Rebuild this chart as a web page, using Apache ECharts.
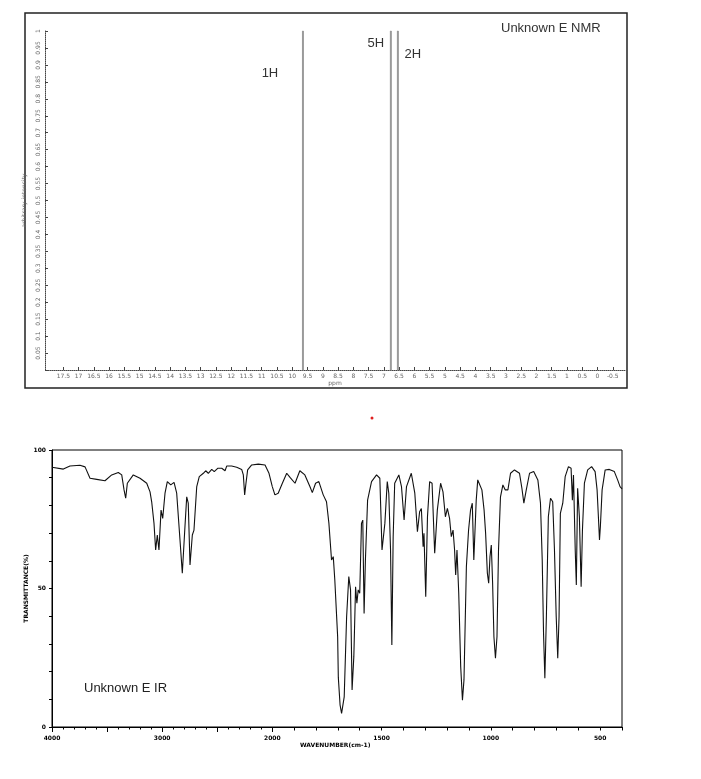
<!DOCTYPE html>
<html>
<head>
<meta charset="utf-8">
<script src="https://cdn.jsdelivr.net/npm/echarts@6/dist/echarts.min.js"></script>
<style>
  html, body { margin: 0; padding: 0; background: #fff; }
  #chart { width: 701px; height: 779px; }
</style>
</head>
<body>
<div id="chart"></div>
<script>
// NMR peaks (ppm, relative height, integration label)
const nmrShift = [9.65, 6.77, 6.54]
const nmrHeight = [1, 1, 1]
const nmrLabel = ['1H', '5H', '2H']
const nmrTicks = [17.5, 17, 16.5, 16, 15.5, 15, 14.5, 14, 13.5, 13, 12.5, 12, 11.5, 11, 10.5, 10,
  9.5, 9, 8.5, 8, 7.5, 7, 6.5, 6, 5.5, 5, 4.5, 4, 3.5, 3, 2.5, 2, 1.5, 1, 0.5, 0, -0.5]

// IR spectrum: wavenumber (cm-1) and transmittance (%)
const irWave = [
  4000, 3897, 3837, 3746, 3700, 3655, 3594, 3519, 3458, 3398, 3367, 3346, 3331, 3316, 3262, 3201,
  3140, 3110, 3095, 3074, 3059, 3044, 3029, 3010, 2995, 2974, 2953, 2922, 2892, 2868, 2838, 2817,
  2793, 2777, 2763, 2747, 2726, 2711, 2686, 2663, 2626, 2605, 2581, 2550, 2527, 2496, 2459, 2429,
  2414, 2369, 2323, 2278, 2263, 2251, 2239, 2224, 2187, 2127, 2066, 2030, 2000,
  1988, 1973, 1954, 1934, 1919, 1896, 1874, 1851, 1828, 1817, 1802, 1787, 1767, 1752, 1741, 1729,
  1721, 1714, 1701, 1698, 1690, 1683, 1671, 1660, 1650, 1642, 1635, 1627, 1619, 1613, 1607, 1600,
  1592, 1586, 1580, 1574, 1564, 1546, 1523, 1508, 1498, 1485, 1474, 1467, 1459, 1453, 1447, 1440,
  1421, 1409, 1397, 1386, 1364, 1348, 1336, 1326, 1318, 1310, 1306, 1298, 1290, 1280, 1269, 1257,
  1245, 1230, 1219, 1208, 1199, 1189, 1181, 1173, 1166, 1161, 1155, 1147, 1138, 1130, 1123, 1112,
  1102, 1093, 1085, 1078, 1067, 1060, 1052, 1041, 1031, 1024, 1016, 1010, 1004, 998, 992, 986,
  979, 972, 965, 956, 945, 934, 922, 910, 892, 869, 858, 849, 838, 823, 804, 785,
  773, 765, 759, 753, 746, 737, 727, 717, 709, 701, 694, 688, 682, 671, 660, 645,
  633, 627, 622, 619, 614, 609, 603, 595, 587, 581, 572, 557, 539, 523, 514, 508,
  503, 499, 491, 477, 458, 435, 420, 409, 400
]
const irTrans = [
  93.8, 93.1, 94.2, 94.5, 93.9, 89.8, 89.4, 88.9, 91.0, 91.9, 91.0, 85.6, 82.6, 88.0, 91.0, 89.8,
  88.0, 84.9, 81.3, 73.5, 63.9, 69.3, 63.9, 78.3, 75.3, 84.4, 88.6, 87.4, 88.3, 84.4, 67.5, 55.5,
  72.3, 83.1, 80.8, 58.5, 69.3, 71.1, 86.8, 90.4, 91.6, 92.5, 91.6, 93.0, 92.2, 93.4, 93.4, 92.5,
  94.2, 94.2, 93.8, 93.0, 91.0, 83.8, 88.0, 92.8, 94.6, 94.9, 94.6, 91.6, 86.8,
  83.8, 84.4, 88.0, 91.6, 90.1, 88.0, 92.5, 91.0, 86.8, 84.6, 88.0, 88.6, 83.8, 81.3, 73.5, 60.3,
  61.5, 53.1, 32.6, 18.0, 8.0, 4.9, 10.9, 39.8, 54.3, 49.5, 13.4, 25.4, 50.6, 44.7, 49.5, 48.3,
  73.5, 74.7, 41.0, 60.3, 81.9, 88.6, 91.0, 89.8, 63.9, 73.5, 88.6, 84.4, 63.9, 29.6, 68.7, 88.0,
  91.0, 86.8, 74.7, 86.8, 91.6, 84.4, 70.5, 77.7, 78.9, 65.1, 69.9, 47.0, 75.9, 88.6, 88.0, 62.7,
  78.3, 88.0, 84.9, 75.9, 78.9, 75.3, 68.7, 71.1, 63.9, 54.9, 63.9, 48.3, 21.8, 9.7, 17.0, 57.9,
  71.1, 78.3, 80.8, 60.3, 81.9, 89.2, 89.4, 85.6, 78.3, 69.9, 55.5, 51.9, 61.5, 65.7, 51.9, 32.6,
  24.8, 32.6, 63.9, 83.1, 87.4, 85.6, 85.6, 91.6, 92.8, 91.6, 86.2, 80.8, 85.6, 91.6, 92.2, 89.2,
  80.8, 60.3, 33.8, 17.6, 39.8, 75.9, 82.6, 81.3, 63.9, 39.8, 24.8, 39.8, 77.1, 80.8, 90.4, 94.0,
  93.4, 81.9, 91.0, 80.8, 63.9, 51.3, 86.2, 75.9, 50.6, 71.1, 88.0, 92.8, 94.0, 92.2, 85.6, 75.9,
  67.5, 72.3, 85.6, 92.8, 93.0, 92.2, 89.2, 86.8, 86.0
]

const annoFont = 'Liberation Sans'
const tickFont = 'DejaVu Sans'

const buildOption = () => {
  const irPoints = irWave.map((w, i) => [w, irTrans[i]])
  // the IR abscissa changes scale at 2000 cm-1, so split across two grids
  const irHigh = irPoints.filter(p => p[0] >= 2000)
  const irLow = irPoints.filter(p => p[0] <= 2000)

  // 各个NMR峰画成竖线
  const nmrSeries = nmrShift.map((s, i) => ({
    type: 'line',
    xAxisIndex: 0,
    yAxisIndex: 0,
    silent: true,
    symbol: 'circle',
    symbolSize: 1,
    showSymbol: true,
    lineStyle: { color: '#9a9a9a', width: 2 },
    itemStyle: { color: '#9a9a9a' },
    data: [
      [s, 0],
      {
        value: [s, nmrHeight[i]],
        label: {
          show: true,
          formatter: nmrLabel[i],
          position: 'inside',
          offset: [[-33, 42], [-15, 12], [15, 23]][i],
          fontFamily: annoFont,
          fontSize: 13,
          color: '#333'
        }
      }
    ]
  }))

  return {
    animation: false,
    backgroundColor: '#fff',
    grid: [
      { left: 45, right: 76, top: 31, bottom: 409 },
      { left: 52, right: 428.7, top: 450, bottom: 52 },
      { left: 272.3, right: 79, top: 450, bottom: 52 }
    ],
    xAxis: [
      {
        gridIndex: 0,
        type: 'value',
        min: -0.9,
        max: 18.1,
        inverse: true,
        name: 'ppm',
        nameLocation: 'middle',
        nameGap: 10,
        nameTextStyle: { fontFamily: tickFont, fontSize: 6, color: '#666' },
        splitLine: { show: false },
        axisLine: { onZero: false, lineStyle: { color: '#444', type: 'dotted', width: 1 } },
        axisTick: { customValues: nmrTicks, inside: true, length: 3, lineStyle: { color: '#444' } },
        axisLabel: {
          customValues: nmrTicks,
          margin: 3,
          fontFamily: tickFont,
          fontSize: 6,
          color: '#666',
          formatter: v => String(v)
        }
      },
      {
        gridIndex: 1,
        type: 'value',
        min: 2000,
        max: 4000,
        interval: 500,
        inverse: true,
        splitLine: { show: false },
        axisLine: { onZero: false, lineStyle: { color: '#000', width: 1 } },
        axisTick: { length: 5, lineStyle: { color: '#000' } },
        minorTick: { show: true, splitNumber: 5, length: 2.5, lineStyle: { color: '#000' } },
        axisLabel: {
          margin: 8,
          fontFamily: tickFont,
          fontSize: 6,
          fontWeight: 'bold',
          color: '#000',
          formatter: v => (v % 1000 === 0 ? String(v) : '')
        }
      },
      {
        gridIndex: 2,
        type: 'value',
        min: 400,
        max: 2000,
        interval: 100,
        inverse: true,
        splitLine: { show: false },
        axisLine: { onZero: false, lineStyle: { color: '#000', width: 1 } },
        axisTick: { length: 3.5, lineStyle: { color: '#000' } },
        axisLabel: {
          margin: 8,
          fontFamily: tickFont,
          fontSize: 6,
          fontWeight: 'bold',
          color: '#000',
          showMaxLabel: false,
          formatter: v => (v % 500 === 0 && v < 2000 ? String(v) : '')
        }
      }
    ],
    yAxis: [
      {
        gridIndex: 0,
        type: 'value',
        min: 0,
        max: 1,
        interval: 0.05,
        name: 'arbitrary intensity',
        nameLocation: 'middle',
        nameGap: 12,
        nameTextStyle: { fontFamily: tickFont, fontSize: 6, color: '#666' },
        splitLine: { show: false },
        axisLine: { onZero: false, lineStyle: { color: '#444', type: 'dotted', width: 1 } },
        axisTick: { inside: true, length: 3, lineStyle: { color: '#444' } },
        axisLabel: {
          rotate: 90,
          margin: 4,
          fontFamily: tickFont,
          fontSize: 6,
          color: '#666',
          formatter: v => (v === 0 ? '' : String(+v.toFixed(2)))
        }
      },
      {
        gridIndex: 1,
        type: 'value',
        min: 0,
        max: 100,
        interval: 10,
        name: 'TRANSMITTANCE(%)',
        nameLocation: 'middle',
        nameGap: 18,
        nameTextStyle: { fontFamily: tickFont, fontSize: 6, fontWeight: 'bold', color: '#000' },
        splitLine: { show: false },
        axisLine: { onZero: false, lineStyle: { color: '#000', width: 1 } },
        axisTick: { length: 3, lineStyle: { color: '#000' } },
        axisLabel: {
          margin: 6,
          fontFamily: tickFont,
          fontSize: 6,
          fontWeight: 'bold',
          color: '#000',
          formatter: v => (v % 50 === 0 ? String(v) : '')
        }
      },
      {
        gridIndex: 2,
        type: 'value',
        min: 0,
        max: 100,
        show: false
      }
    ],
    graphic: [
      // NMR外框
      {
        type: 'rect',
        shape: { x: 25, y: 13, width: 602, height: 375 },
        style: { fill: 'none', stroke: '#222', lineWidth: 1.5 },
        silent: true
      },
      // IR外框
      {
        type: 'rect',
        shape: { x: 52, y: 450, width: 570, height: 277 },
        style: { fill: 'none', stroke: '#000', lineWidth: 1 },
        silent: true
      },
      {
        type: 'text',
        left: 501,
        top: 22,
        style: { text: 'Unknown E NMR', fontFamily: annoFont, fontSize: 13, fill: '#333' }
      },
      {
        type: 'text',
        left: 84,
        top: 682,
        style: { text: 'Unknown E IR', fontFamily: annoFont, fontSize: 13, fill: '#222' }
      },
      {
        type: 'text',
        left: 300,
        top: 742,
        style: { text: 'WAVENUMBER(cm-1)', fontFamily: tickFont, fontSize: 6, fontWeight: 'bold', fill: '#000' }
      },
      {
        type: 'circle',
        shape: { cx: 372, cy: 418, r: 1.5 },
        style: { fill: '#e02020' },
        silent: true
      }
    ],
    series: [
      ...nmrSeries,
      {
        type: 'line',
        xAxisIndex: 1,
        yAxisIndex: 1,
        showSymbol: false,
        silent: true,
        lineStyle: { color: '#111', width: 1.1 },
        data: irHigh
      },
      {
        type: 'line',
        xAxisIndex: 2,
        yAxisIndex: 2,
        showSymbol: false,
        silent: true,
        lineStyle: { color: '#111', width: 1.1 },
        data: irLow
      }
    ]
  }
}

const chartInstance = echarts.init(document.getElementById('chart'))
chartInstance.setOption(buildOption())

window.addEventListener('resize', () => {
  chartInstance.resize()
})
</script>
</body>
</html>
